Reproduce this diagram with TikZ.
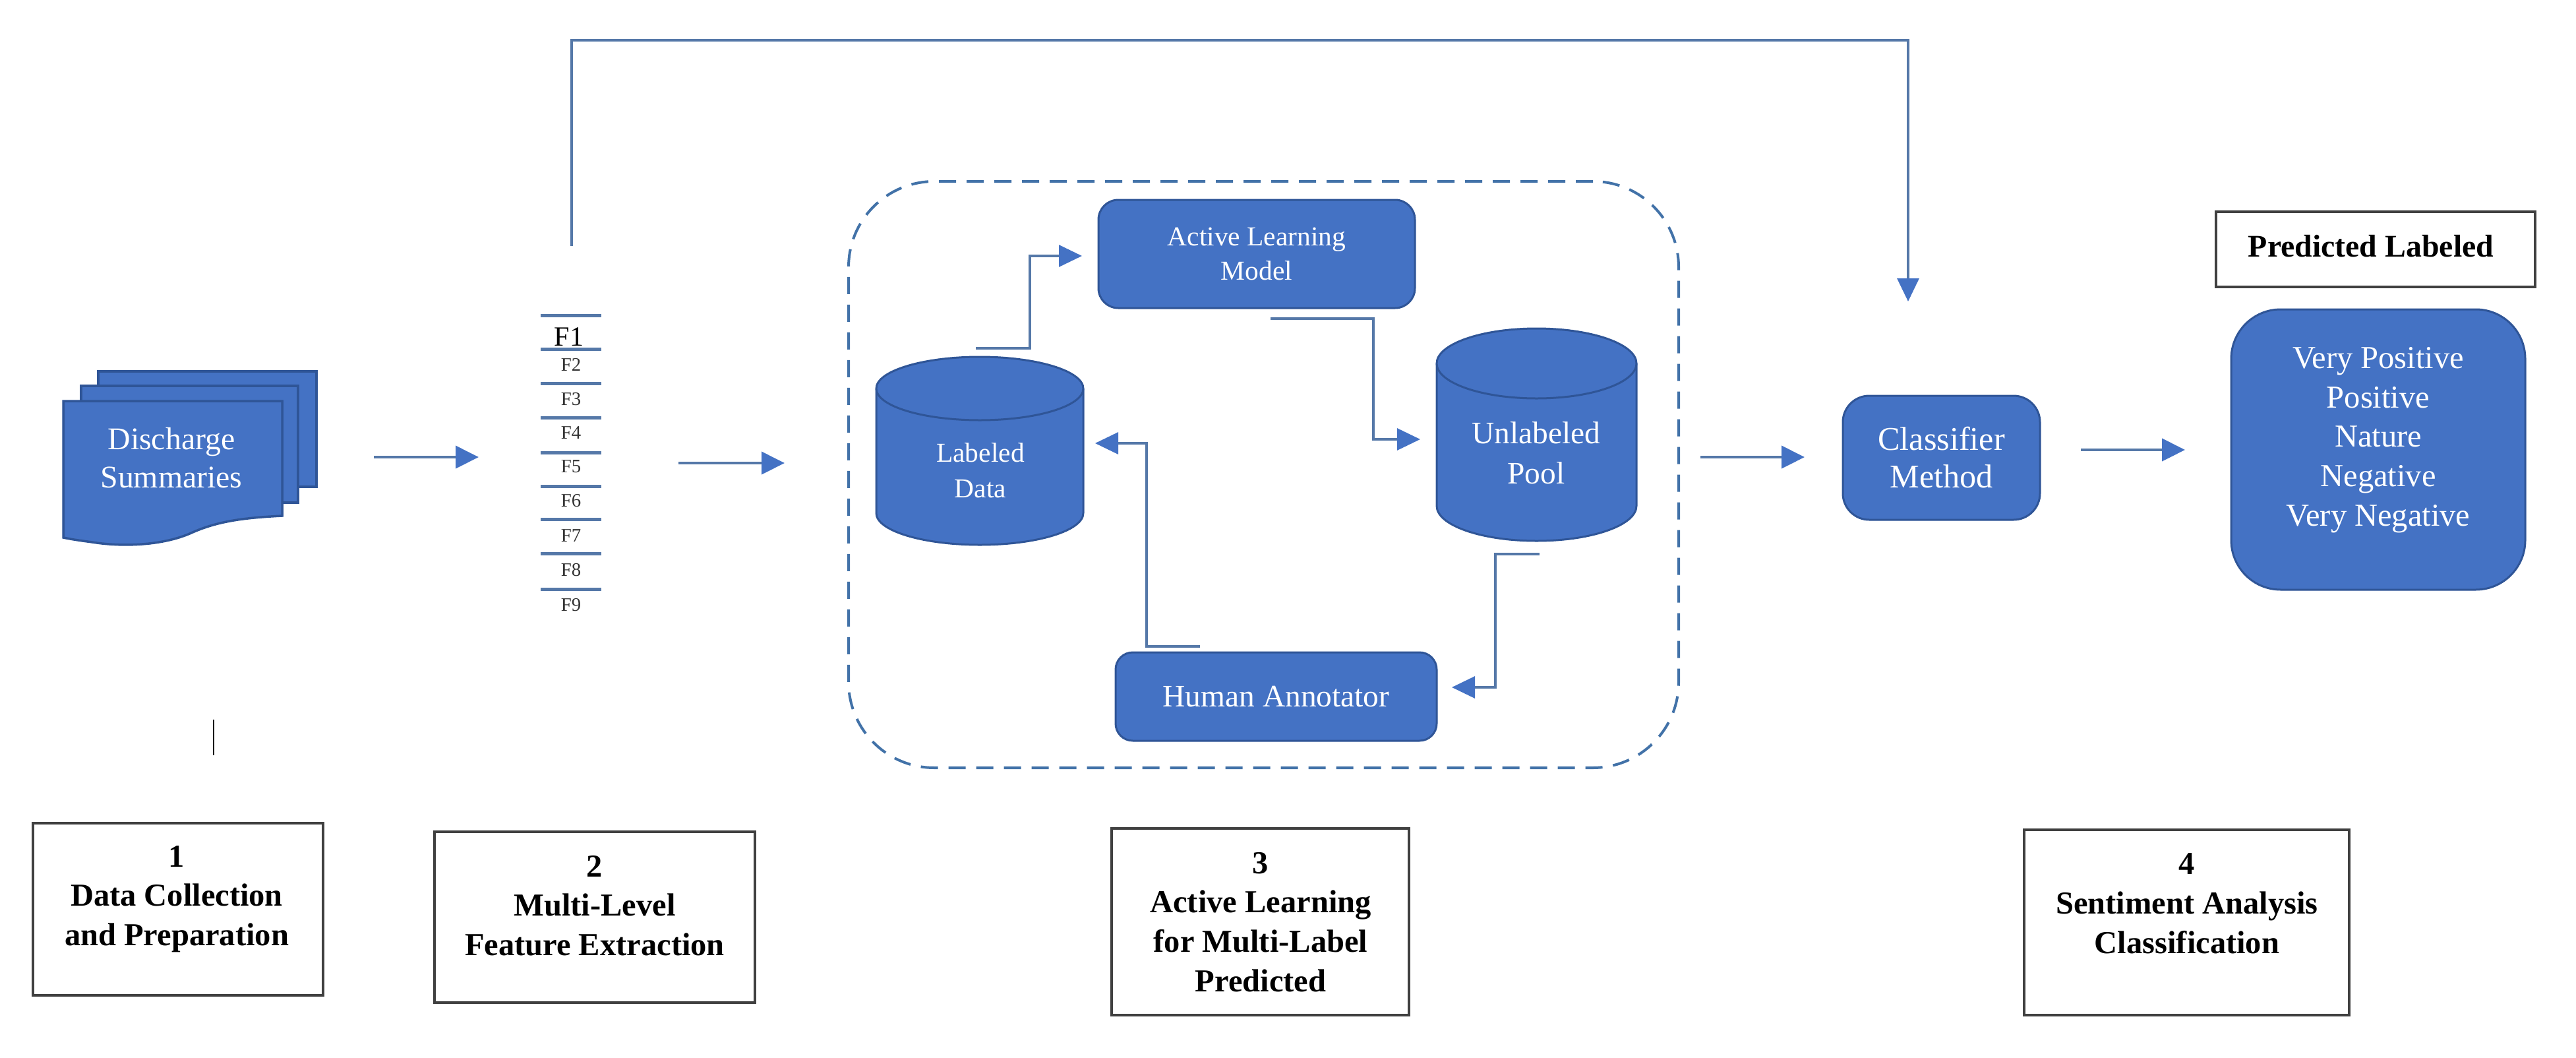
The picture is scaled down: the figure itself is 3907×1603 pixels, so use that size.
\documentclass[tikz,border=0pt]{standalone}
\usepackage{fontspec}
\setmainfont{Liberation Serif}
\usetikzlibrary{arrows.meta}
\definecolor{fillblue}{HTML}{4472C4}
\definecolor{edgeblue}{HTML}{2F5597}
\definecolor{lineblue}{HTML}{5578A8}
\definecolor{dashblue}{HTML}{4272A8}
\tikzset{
  bluebox/.style={draw=edgeblue,fill=fillblue,line width=0.3mm,inner sep=0pt,text=white,align=center},
  sheet/.style={draw=edgeblue,fill=fillblue,line width=0.35mm,line join=miter},
  cyl/.style={draw=edgeblue,fill=fillblue,line width=0.3mm},
  bluetext/.style={text=white,align=center,inner sep=0pt},
  stepframe/.style={draw=black!75,line width=0.4mm,inner sep=0pt,fill=white},
  steptext/.style={font=\fontsize{13.8}{17}\selectfont\bfseries,align=center,inner sep=0pt,text=black},
  flow/.style={draw=lineblue,line width=0.4mm,-{Triangle[length=3.5mm,width=3.4mm,fill=fillblue,color=fillblue]}},
  thinflow/.style={draw=lineblue,line width=0.32mm,line join=miter,-{Triangle[length=3.5mm,width=3.3mm,fill=fillblue,color=fillblue]}},
  fsep/.style={draw=lineblue,line width=0.5mm},
  flabel/.style={font=\fontsize{8.2}{10}\selectfont,text=black!80,inner sep=0pt}
}
\begin{document}
\begin{tikzpicture}[x=0.1mm,y=-0.1mm]
\useasboundingbox (0,0) rectangle (3907,1603);

% Document stack
\draw[sheet] (149,563) rectangle (480,738);
\draw[sheet] (123,585) rectangle (452,762);
\draw[sheet] (96,608) -- (428,608) -- (428,782) .. controls (370,785) and (330,790) .. (290,808) .. controls (250,826) and (190,830) .. (140,822) .. controls (125,820) and (110,818) .. (96,815) -- cycle;
\node[bluetext,font=\fontsize{13.6}{16.5}\selectfont] (docs) at (260,694) {Discharge\\Summaries};

% Feature list
\foreach \yy in {478,529,581,633,686,737,787,839,893}
  \draw[fsep] (820,\yy) -- (912,\yy);
\node[font=\fontsize{12}{14}\selectfont,text=black,inner sep=0pt] (f1) at (863,511) {F1};
\node[flabel] (f2) at (866,553) {F2};
\node[flabel] (f3) at (866,605) {F3};
\node[flabel] (f4) at (866,656) {F4};
\node[flabel] (f5) at (866,707) {F5};
\node[flabel] (f6) at (866,759) {F6};
\node[flabel] (f7) at (866,812) {F7};
\node[flabel] (f8) at (866,864) {F8};
\node[flabel] (f9) at (866,917) {F9};

% Active learning group
\node[draw=dashblue,line width=0.4mm,dash pattern=on 2.6mm off 1.6mm,rounded corners=13mm,minimum width=125.9mm,minimum height=88.9mm,inner sep=0pt] (group) at (1916.5,719.5) {};
\node[bluebox,rounded corners=3mm,minimum width=48mm,minimum height=16.4mm,font=\fontsize{11.8}{15}\selectfont] (model) at (1906,385) {Active Learning\\Model};
\node[bluebox,rounded corners=2.6mm,minimum width=48.7mm,minimum height=13.4mm,font=\fontsize{13.5}{16}\selectfont] (human) at (1935.5,1056) {Human Annotator};

\draw[cyl] (1329,589) -- (1329,778) arc[start angle=180,end angle=360,x radius=15.7mm,y radius=4.8mm] -- (1643,589) arc[start angle=0,end angle=180,x radius=15.7mm,y radius=4.8mm] -- cycle;
\draw[cyl] (1329,589) arc[start angle=180,end angle=360,x radius=15.7mm,y radius=4.8mm];
\node[bluetext,font=\fontsize{11.8}{15.3}\selectfont] (labeled) at (1487,713) {Labeled\\Data};

\draw[cyl] (2179,551) -- (2179,767) arc[start angle=180,end angle=360,x radius=15.15mm,y radius=5.3mm] -- (2482,551) arc[start angle=0,end angle=180,x radius=15.15mm,y radius=5.3mm] -- cycle;
\draw[cyl] (2179,551) arc[start angle=180,end angle=360,x radius=15.15mm,y radius=5.3mm];
\node[bluetext,font=\fontsize{13.5}{17.3}\selectfont] (unlabeled) at (2330,687) {Unlabeled\\Pool};

% Classifier and results
\node[bluebox,rounded corners=4mm,minimum width=29.9mm,minimum height=18.8mm,font=\fontsize{14.3}{16.2}\selectfont] (classifier) at (2944.5,694) {Classifier\\Method};
\node[stepframe,minimum width=48.4mm,minimum height=11.4mm] (predicted) at (3603,378) {};
\node[steptext,font=\fontsize{13.6}{16}\selectfont\bfseries] (predictedtext) at (3596,373) {Predicted Labeled};
\node[bluebox,rounded corners=7.5mm,minimum width=44.6mm,minimum height=42.5mm] (result) at (3607,681.5) {};
\node[bluetext,font=\fontsize{13.8}{17}\selectfont] (resulttext) at (3607,667) {Very Positive\\Positive\\Nature\\Negative\\Very Negative};

% Stage boxes
\node[stepframe,minimum width=44mm,minimum height=26.1mm] (s1) at (270,1378.5) {};
\node[steptext] (s1text) at (268,1363) {1\\Data Collection\\and Preparation};
\node[stepframe,minimum width=48.6mm,minimum height=25.9mm] (s2) at (902,1390.5) {};
\node[steptext] (s2text) at (902,1373) {2\\Multi-Level\\Feature Extraction};
\node[stepframe,minimum width=45.1mm,minimum height=28.3mm] (s3) at (1911.5,1397.5) {};
\node[steptext] (s3text) at (1912,1398) {3\\Active Learning\\for Multi-Label\\Predicted};
\node[stepframe,minimum width=49.3mm,minimum height=28.1mm] (s4) at (3316.5,1398.5) {};
\node[steptext] (s4text) at (3317,1370) {4\\Sentiment Analysis\\Classification};

% Free connector ends
\coordinate (a1s) at (567,693);  \coordinate (a1e) at (726,693);
\coordinate (a2s) at (1029,702); \coordinate (a2e) at (1190,702);
\coordinate (a3s) at (2579,693); \coordinate (a3e) at (2737,693);
\coordinate (a4s) at (3156,682); \coordinate (a4e) at (3314,682);
\coordinate (tops) at (867,373); \coordinate (tope) at (2894,457);
\coordinate (ls) at (1480,528);  \coordinate (le) at (1641,388);
\coordinate (ms) at (1927,483);  \coordinate (me) at (2154,666);
\coordinate (us) at (2335,840);  \coordinate (ue) at (2202,1042);
\coordinate (hs) at (1820,980);  \coordinate (he) at (1661,672);
\coordinate (ticka) at (324,1091); \coordinate (tickb) at (324,1145);

\draw[flow] (a1s) -- (a1e);
\draw[flow] (a2s) -- (a2e);
\draw[flow] (a3s) -- (a3e);
\draw[flow] (a4s) -- (a4e);
\draw[thinflow] (tops) |- (2894,61) -- (tope);
\draw[thinflow] (ls) -| (1562,388) -- (le);
\draw[thinflow] (ms) -| (2083,666) -- (me);
\draw[thinflow] (us) -| (2268,1042) -- (ue);
\draw[thinflow] (hs) -| (1739,672) -- (he);
\draw[black,line width=0.22mm] (ticka) -- (tickb);
\end{tikzpicture}
\end{document}
